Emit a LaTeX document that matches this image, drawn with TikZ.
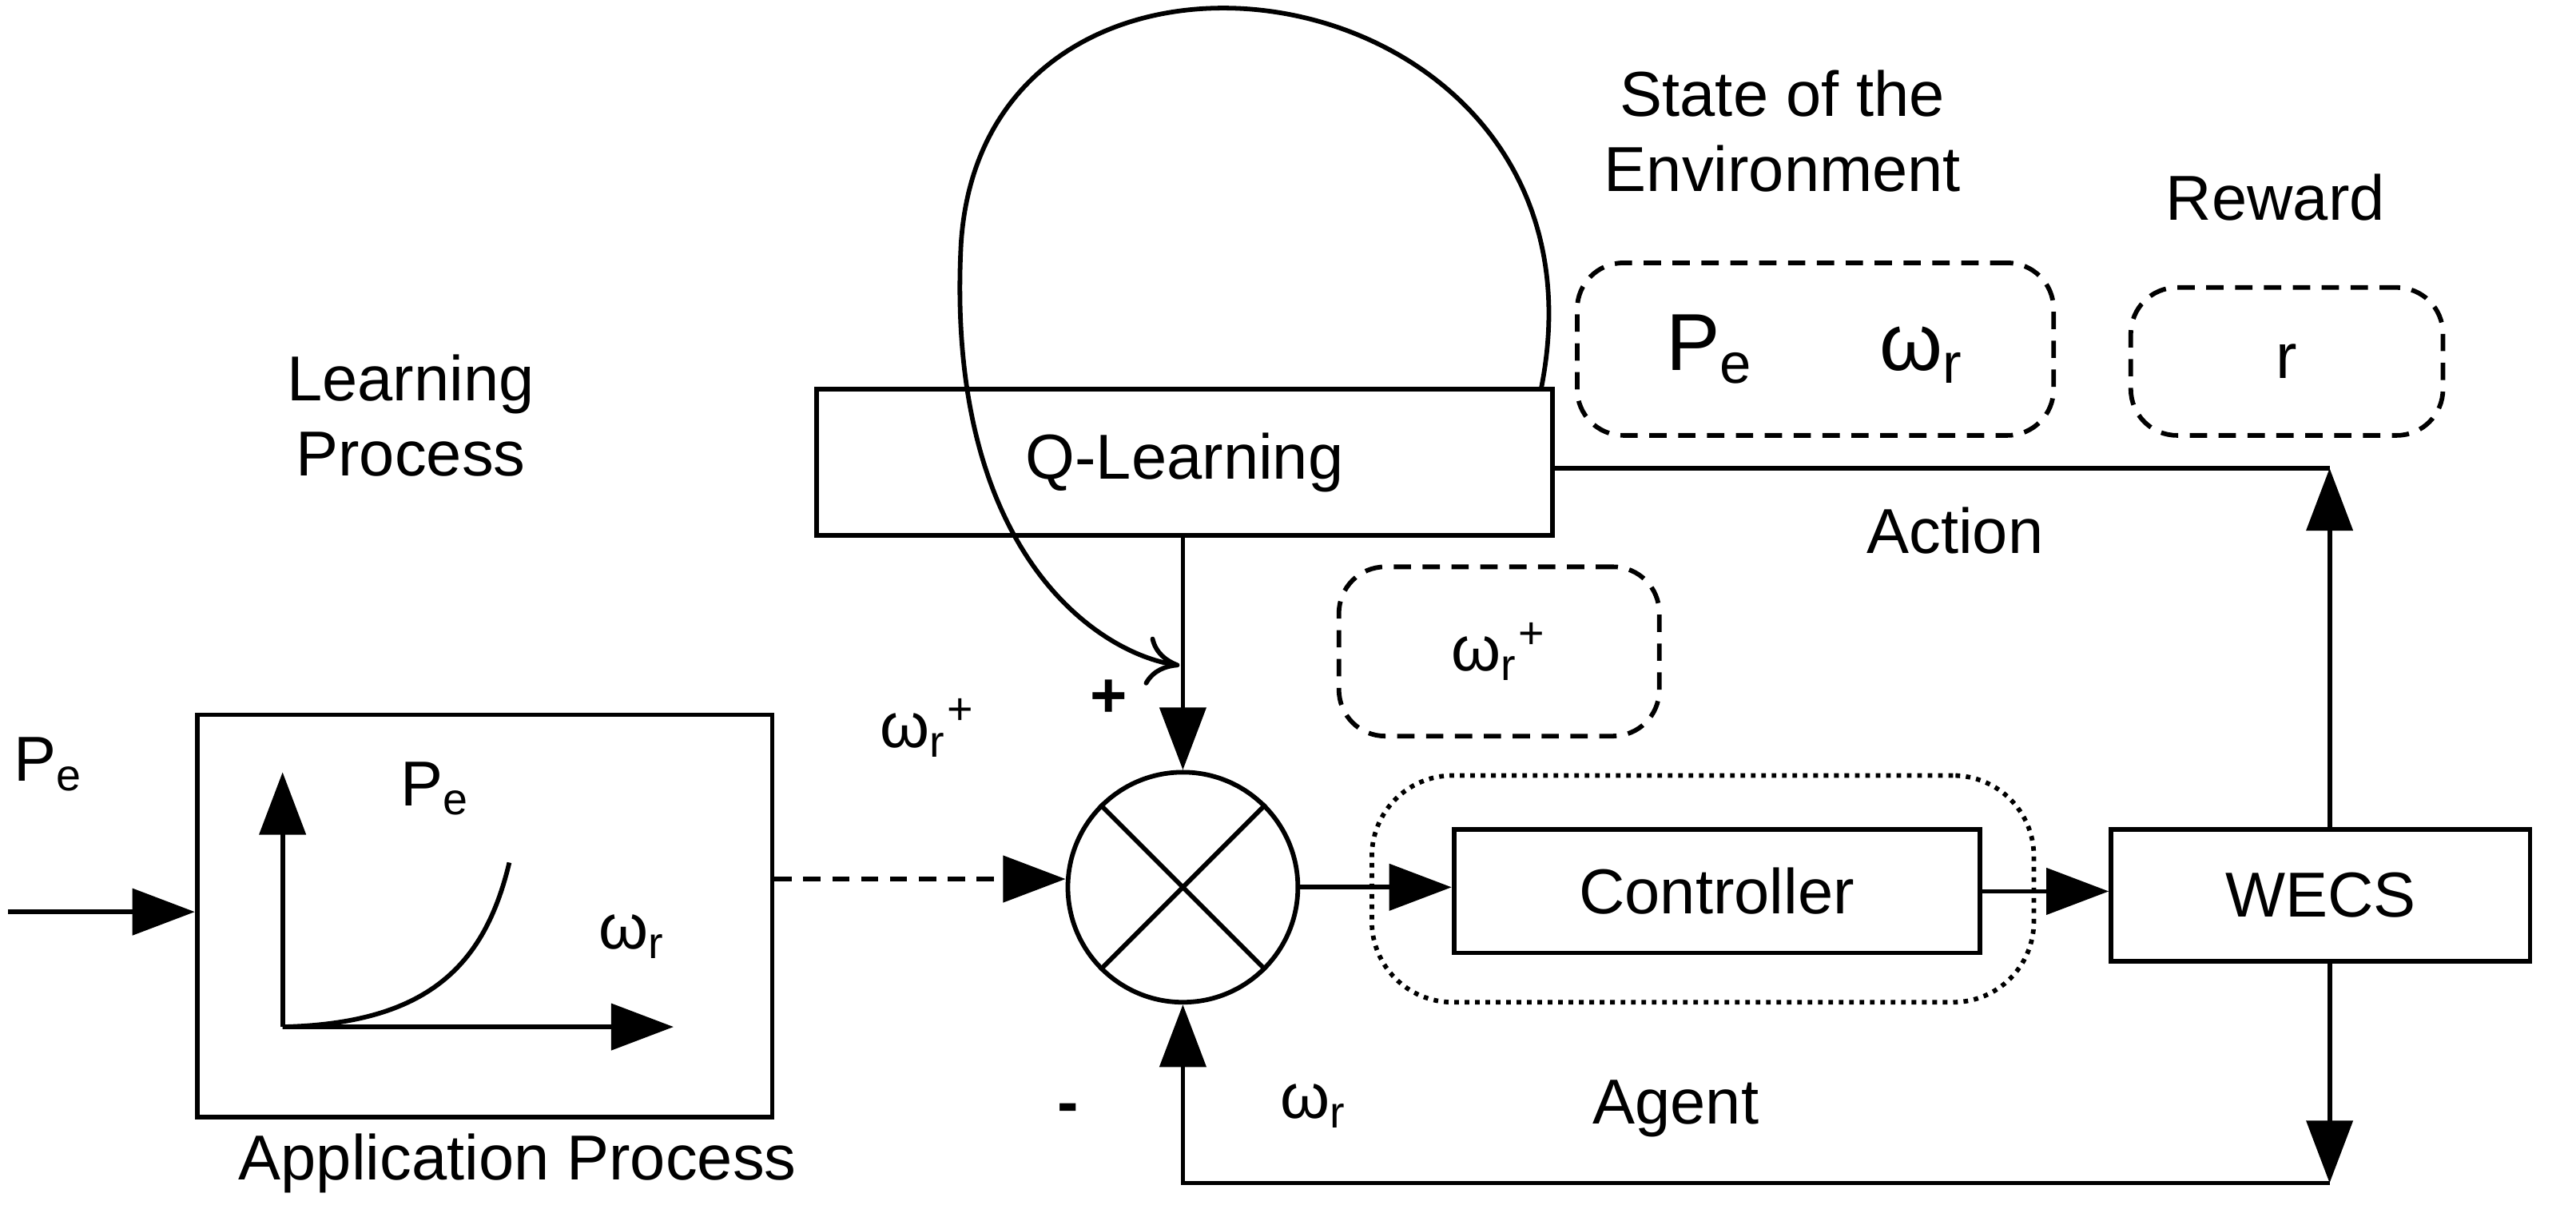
\documentclass[tikz,border=0pt]{standalone}
\usepackage{fontspec}
\setmainfont{Liberation Sans}
\usetikzlibrary{arrows.meta}
\begin{document}
\begin{tikzpicture}[
  font=\fontsize{11}{13}\selectfont,
  blk/.style={draw, thick, rectangle, inner sep=0pt},
  dbox/.style={draw, thick, densely dashed, rounded corners=8pt, inner sep=0pt},
  lbl/.style={inner sep=1pt},
  tip/.style={-{Triangle[length=0.38cm,width=0.28cm]}},
  every path/.style={thick}
]
\useasboundingbox (0,7.8) rectangle (15.68,15.18);

% blocks
\node[blk, minimum width=4.48cm, minimum height=0.89cm] (ql) at (7.21,12.365) {Q-Learning};
\node[draw, thick, circle, minimum size=1.4cm, inner sep=0pt] (sum) at (7.2,9.78) {};
\draw (sum.45) -- (sum.225) (sum.135) -- (sum.315);
\node[blk, minimum width=3.2cm, minimum height=0.75cm] (ctrl) at (10.45,9.755) {Controller};
\node[blk, minimum width=2.55cm, minimum height=0.8cm] (wecs) at (14.125,9.73) {WECS};
\node[blk, minimum width=3.5cm, minimum height=2.45cm] (app) at (2.95,9.605) {};
\node[draw, thick, densely dotted, rounded corners=14pt, minimum width=4.03cm, minimum height=1.38cm] (agentbox) at (10.365,9.77) {};

% dashed info boxes
\node[dbox, minimum width=2.9cm, minimum height=1.05cm] (env) at (11.05,13.055)
  {\fontsize{14}{16}\selectfont P\textsubscript{e}\quad\; ω\textsubscript{r}};
\node[dbox, minimum width=1.9cm, minimum height=0.9cm] (rew) at (13.92,12.98) {r};
\node[dbox, minimum width=1.95cm, minimum height=1.03cm] (ref) at (9.125,11.215) {ω\textsubscript{r}\textsuperscript{+}};

% inside application process
\coordinate (o) at (1.72,8.93);
\coordinate (ytop) at (1.72,10.48);
\coordinate (xend) at (4.1,8.93);
\draw[tip] (o) -- (ytop);
\draw[tip] (o) -- (xend);
\draw (o) .. controls (2.6,8.95) and (2.95,9.3) .. (3.1,9.93);
\node[lbl] (pein) at (2.65,10.38) {P\textsubscript{e}};
\node[lbl] (wrin) at (3.85,9.48) {ω\textsubscript{r}};

% input
\coordinate (in) at (0.05,9.63);
\draw[tip] (in) -- (in -| app.west);
\node[lbl] (pe) at (0.3,10.53) {P\textsubscript{e}};

% main path
\draw[densely dashed, tip] (app.east |- sum.west) ++(0,0.05) -- ([yshift=0.05cm]sum.west);
\draw[tip] (sum.east) -- (sum.east -| ctrl.west);
\draw[tip] (ctrl.east) -- (ctrl.east -| wecs.west);
\draw[tip] (ql.south -| sum.north) -- (sum.north);

% action / reward path
\coordinate (act) at (14.18,12.33);
\draw (ql.east |- act) -- (act);
\draw[tip] (act |- wecs.north) -- (act);

% feedback
\coordinate (fbr) at (14.18,7.98);
\coordinate (fbl) at (7.2,7.98);
\draw[tip] (fbr |- wecs.south) -- (fbr);
\draw[tip] (fbr) -- (fbl) -- (sum.south);

% learning loop
\coordinate (ls) at (9.38,12.81);
\coordinate (le) at (7.18,11.13);
\draw[-{To[length=0.2cm,width=0.3cm]}] (ls) .. controls (9.9,15.4) and (6.0,16.0) .. (5.85,13.7)
  .. controls (5.75,11.8) and (6.7,11.2) .. (le);

% labels
\node[lbl] (plus) at (6.75,10.93) {\textbf{+}};
\node[lbl] (minus) at (6.5,8.4) {\textbf{-}};
\node[lbl] (wrp) at (5.65,10.75) {ω\textsubscript{r}\textsuperscript{+}};
\node[lbl] (wrfb) at (8.0,8.45) {ω\textsubscript{r}};
\node[lbl, align=center] (lp) at (2.5,12.65) {Learning\\Process};
\node[lbl, align=center] (se) at (10.85,14.38) {State of the\\Environment};
\node[lbl] (rw) at (13.85,13.98) {Reward};
\node[lbl] (ac) at (11.9,11.95) {Action};
\node[lbl] (ag) at (10.2,8.43) {Agent};
\node[lbl] (ap) at (3.15,8.1) {Application Process};
\end{tikzpicture}
\end{document}
